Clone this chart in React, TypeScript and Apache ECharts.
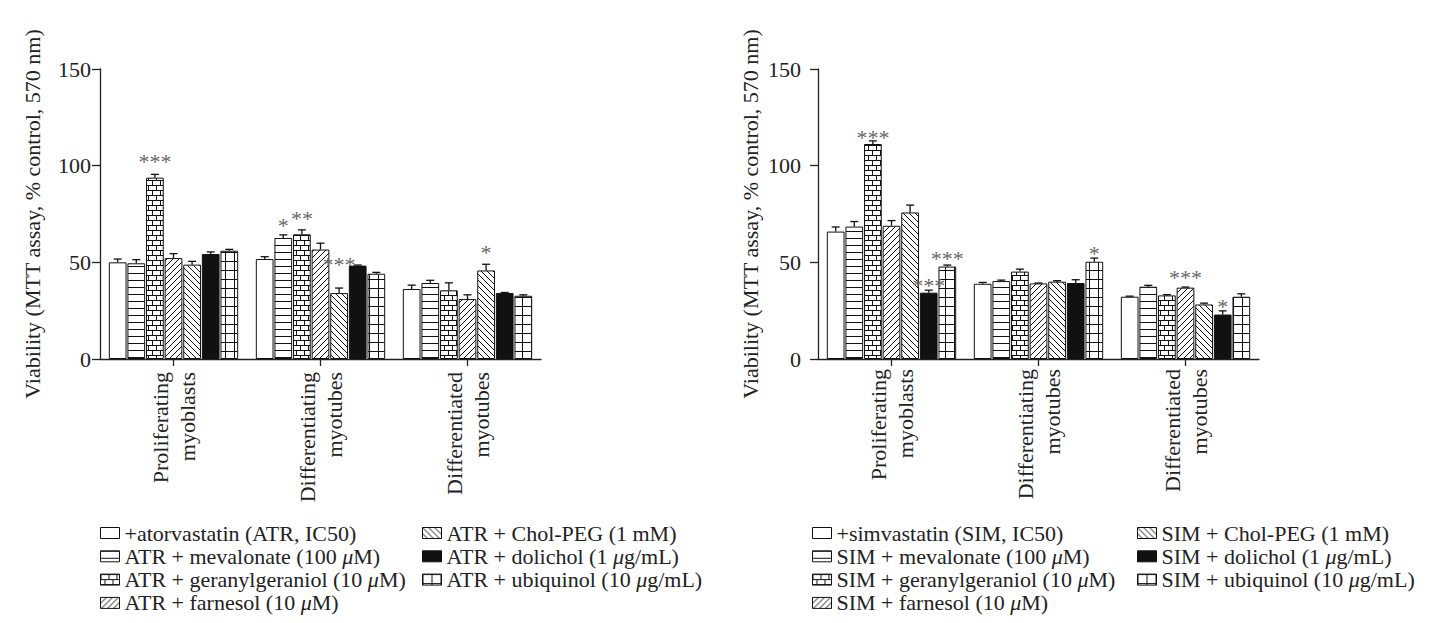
import React, { useEffect, useRef } from "react";
import * as echarts from "echarts";

const FONT = '"Liberation Serif", "Times New Roman", serif';

const categories = [
  "Proliferating\nmyoblasts",
  "Differentiating\nmyotubes",
  "Differentiated\nmyotubes",
];

const atrNames = [
  "+atorvastatin (ATR, IC50)",
  "ATR + mevalonate (100 μM)",
  "ATR + geranylgeraniol (10 μM)",
  "ATR + farnesol (10 μM)",
  "ATR + Chol-PEG (1 mM)",
  "ATR + dolichol (1 μg/mL)",
  "ATR + ubiquinol (10 μg/mL)",
];
const simNames = [
  "+simvastatin (SIM, IC50)",
  "SIM + mevalonate (100 μM)",
  "SIM + geranylgeraniol (10 μM)",
  "SIM + farnesol (10 μM)",
  "SIM + Chol-PEG (1 mM)",
  "SIM + dolichol (1 μg/mL)",
  "SIM + ubiquinol (10 μg/mL)",
];

// mean viability per treatment, across the three categories
const atrMeans = [
  [50.0, 51.7, 36.2],
  [49.5, 62.6, 39.3],
  [93.8, 64.5, 35.5],
  [52.2, 56.6, 31.0],
  [48.8, 34.1, 45.8],
  [54.3, 48.3, 34.1],
  [56.0, 44.1, 32.7],
];
const atrSem = [
  [1.7, 1.2, 2.0],
  [1.9, 1.6, 1.4],
  [1.7, 2.3, 3.9],
  [2.3, 3.3, 2.2],
  [1.7, 2.6, 3.2],
  [1.1, 0.3, 0.3],
  [0.7, 0.7, 0.5],
];
const simMeans = [
  [65.9, 38.9, 32.2],
  [68.5, 40.3, 37.4],
  [111.2, 45.2, 32.9],
  [68.9, 39.1, 36.9],
  [75.8, 40.0, 28.2],
  [34.3, 39.3, 23.0],
  [47.8, 50.3, 32.2],
];
const simSem = [
  [2.4, 0.7, 0.3],
  [2.6, 0.5, 0.7],
  [1.6, 1.3, 0.4],
  [2.7, 0.2, 0.3],
  [3.8, 0.5, 0.7],
  [1.3, 1.7, 1.9],
  [0.8, 1.9, 1.5],
];

// significance marks: [category, treatment, mark, level (% viability)]
const atrStars: [number, number, string, number][] = [
  [0, 2, "***", 104],
  [1, 1, "*", 71],
  [1, 2, "**", 74.5],
  [1, 4, "***", 50.7],
  [2, 4, "*", 57.3],
];
const simStars: [number, number, string, number][] = [
  [0, 2, "***", 116.5],
  [0, 5, "***", 40],
  [0, 6, "***", 54.2],
  [1, 6, "*", 56.7],
  [2, 3, "***", 44.1],
  [2, 5, "*", 29.4],
];

const yMin = 0;
const yMax = 150;
const yStep = 50;
const yName = "Viability (MTT assay, % control, 570 nm)";

const CAT_GAP = 0.12;
const BAR_GAP = 0.05;

function tile(w: number, h: number, draw: (c: CanvasRenderingContext2D) => void) {
  const c = document.createElement("canvas");
  c.width = w;
  c.height = h;
  const ctx = c.getContext("2d")!;
  ctx.fillStyle = "#fff";
  ctx.fillRect(0, 0, w, h);
  ctx.strokeStyle = "#111";
  ctx.lineWidth = 1;
  ctx.beginPath();
  draw(ctx);
  ctx.stroke();
  return { image: c.toDataURL(), imageWidth: w, imageHeight: h, repeat: "repeat" };
}

function makeFills() {
  const horiz = tile(7, 7, (c) => {
    c.moveTo(0, 0.5);
    c.lineTo(7, 0.5);
  });
  const brick = tile(8, 10, (c) => {
    c.moveTo(0, 0.5);
    c.lineTo(8, 0.5);
    c.moveTo(0, 5.5);
    c.lineTo(8, 5.5);
    c.moveTo(0.5, 0);
    c.lineTo(0.5, 5);
    c.moveTo(4.5, 5);
    c.lineTo(4.5, 10);
  });
  const up = tile(6, 6, (c) => {
    c.moveTo(0, 6);
    c.lineTo(6, 0);
    c.moveTo(-1, 1);
    c.lineTo(1, -1);
    c.moveTo(5, 7);
    c.lineTo(7, 5);
  });
  const down = tile(6, 6, (c) => {
    c.moveTo(0, 0);
    c.lineTo(6, 6);
    c.moveTo(-1, 5);
    c.lineTo(1, 7);
    c.moveTo(5, -1);
    c.lineTo(7, 1);
  });
  const grid = tile(9, 9, (c) => {
    c.moveTo(0.5, 0);
    c.lineTo(0.5, 9);
    c.moveTo(0, 0.5);
    c.lineTo(9, 0.5);
  });
  return ["#ffffff", horiz, brick, up, down, "#111111", grid];
}

function barX(api: any, g: number, i: number, base: number) {
  const catW = api.size([1, 0])[0];
  const bw = (catW * (1 - CAT_GAP)) / (7 + 6 * BAR_GAP);
  const pitch = bw * (1 + BAR_GAP);
  return base + (i - 3) * pitch;
}

function buildSeries(names: string[], means: number[][], sems: number[][], stars: [number, number, string, number][], axis: number, fills: any[]) {
  const bars = names.map((n, i) => ({
    type: "bar",
    name: n,
    xAxisIndex: axis,
    yAxisIndex: axis,
    data: means[i],
    barGap: BAR_GAP * 100 + "%",
    barCategoryGap: CAT_GAP * 100 + "%",
    itemStyle: { color: fills[i], borderColor: "#111", borderWidth: 1 },
    silent: true,
    emphasis: { disabled: true },
  }));
  const errData: number[][] = [];
  means.forEach((row, i) => row.forEach((m, g) => errData.push([g, i, m, m + sems[i][g]])));
  const err = {
    type: "custom",
    xAxisIndex: axis,
    yAxisIndex: axis,
    data: errData,
    encode: { x: 0, y: [2, 3] },
    silent: true,
    z: 3,
    renderItem: (_p: any, api: any) => {
      const g = api.value(0);
      const i = api.value(1);
      const b = api.coord([g, api.value(2)]);
      const t = api.coord([g, api.value(3)]);
      const x = barX(api, g, i, b[0]);
      const st = { stroke: "#111", lineWidth: 1.3 };
      return {
        type: "group",
        children: [
          { type: "line", shape: { x1: x, y1: b[1], x2: x, y2: t[1] }, style: st },
          { type: "line", shape: { x1: x - 4, y1: t[1], x2: x + 4, y2: t[1] }, style: st },
        ],
      };
    },
  };
  const star = {
    type: "custom",
    xAxisIndex: axis,
    yAxisIndex: axis,
    data: stars.map((s) => [s[0], s[1], s[3]]),
    encode: { x: 0, y: 2 },
    silent: true,
    z: 4,
    renderItem: (p: any, api: any) => {
      const g = api.value(0);
      const i = api.value(1);
      const c = api.coord([g, api.value(2)]);
      const x = barX(api, g, i, c[0]);
      return {
        type: "text",
        x,
        y: c[1] + 4,
        style: {
          text: stars[p.dataIndex][2],
          fontFamily: FONT,
          fontSize: 22,
          fill: "#666",
          align: "center",
          verticalAlign: "middle",
        },
      };
    },
  };
  return [...bars, err, star];
}

const yAxisBase = (margin: number) => ({
  type: "value",
  min: yMin,
  max: yMax,
  interval: yStep,
  name: yName,
  nameLocation: "middle",
  nameGap: 57,
  nameTextStyle: { fontFamily: FONT, fontSize: 22, color: "#222" },
  axisLine: { show: true, lineStyle: { color: "#222", width: 1.3 } },
  axisTick: { show: true, length: 8, lineStyle: { color: "#222", width: 1.3 } },
  axisLabel: { fontFamily: FONT, fontSize: 22, color: "#222", margin },
  splitLine: { show: false },
});

const xAxisBase = (margin: number) => ({
  type: "category",
  data: categories,
  axisLine: { show: true, lineStyle: { color: "#222", width: 1.3 } },
  axisTick: { show: true, alignWithLabel: true, length: 7, lineStyle: { color: "#222", width: 1.3 } },
  axisLabel: {
    rotate: 90,
    interval: 0,
    fontFamily: FONT,
    fontSize: 22,
    lineHeight: 27,
    color: "#222",
    margin,
  },
});

const legendBase = (left: number, names: string[]) => ({
  left,
  top: 522,
  height: 101,
  padding: 0,
  orient: "vertical",
  data: names,
  icon: "rect",
  itemWidth: 19,
  itemHeight: 11,
  itemGap: 1.3,
  selectedMode: false,
  itemStyle: { borderColor: "#111", borderWidth: 1 },
  formatter: (n: string) => n.replace(/μ/g, "{i|μ}"),
  textStyle: {
    fontFamily: FONT,
    fontSize: 22,
    lineHeight: 22,
    color: "#222",
    rich: { i: { fontFamily: FONT, fontSize: 22, lineHeight: 22, fontStyle: "italic", color: "#222" } },
  },
});

export default function App() {
  const ref = useRef<HTMLDivElement>(null);
  useEffect(() => {
    document.body.style.margin = "0";
    const chart = echarts.init(ref.current!, null, { renderer: "svg" });
    const fills = makeFills();
    chart.setOption({
      animation: false,
      backgroundColor: "#fff",
      grid: [
        { left: 100, top: 69, width: 441, height: 290 },
        { left: 818, top: 69, width: 441, height: 290 },
      ],
      xAxis: [
        { ...xAxisBase(13), gridIndex: 0 },
        { ...xAxisBase(10), gridIndex: 1 },
      ],
      yAxis: [
        { ...yAxisBase(9), gridIndex: 0 },
        { ...yAxisBase(17), gridIndex: 1 },
      ],
      legend: [
        legendBase(100, atrNames.slice(0, 4)),
        legendBase(422, atrNames.slice(4)),
        legendBase(812, simNames.slice(0, 4)),
        legendBase(1137, simNames.slice(4)),
      ],
      series: [
        ...buildSeries(atrNames, atrMeans, atrSem, atrStars, 0, fills),
        ...buildSeries(simNames, simMeans, simSem, simStars, 1, fills),
      ],
    });
    return () => chart.dispose();
  }, []);
  return <div ref={ref} style={{ width: 1440, height: 623, overflow: "hidden" }} />;
}
